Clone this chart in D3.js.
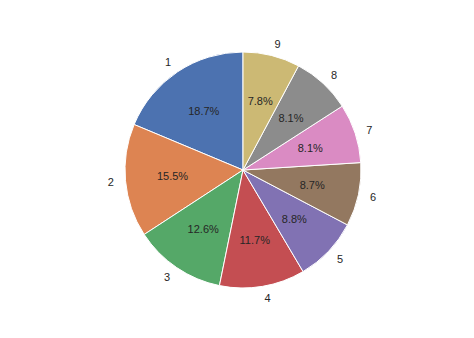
<!DOCTYPE html>
<html>
<head>
<meta charset="utf-8">
<script src="https://cdn.jsdelivr.net/npm/d3@7"></script>
<style>
  body { margin: 0; background: #fff; }
  text { font-family: "Liberation Sans", Arial, sans-serif; font-size: 11px; fill: #262626; }
</style>
</head>
<body>
<svg id="pieVis" width="474" height="338"></svg>
<script>
const labels = ['1', '2', '3', '4', '5', '6', '7', '8', '9'];
const shares = [18.7, 15.5, 12.6, 11.7, 8.8, 8.7, 8.1, 8.1, 7.8];
const colours = ['#4C72B0', '#DD8452', '#55A868', '#C44E52', '#8172B3', '#937860', '#DA8BC3', '#8C8C8C', '#CCB974'];

const cx = 243, cy = 170, radius = 118;
const svg = d3.select('svg#pieVis');
const g = svg.append('g').attr('transform', `translate(${cx},${cy})`);

// matplotlib style: start at 12 o'clock, counter-clockwise
const pie = d3.pie().sort(null).startAngle(0).endAngle(-2 * Math.PI);
const arcs = pie(shares);
const arc = d3.arc().innerRadius(0).outerRadius(radius);

const colourScale = d3.scaleOrdinal().domain(labels).range(colours);

g.selectAll('path')
  .data(arcs)
  .enter()
  .append('path')
  .attr('d', arc)
  .attr('fill', (d, i) => colourScale(labels[i]))
  .attr('stroke', '#fff')
  .attr('stroke-width', 1);

const mid = d => (d.startAngle + d.endAngle) / 2;

// outer labels
g.selectAll('text.label')
  .data(arcs)
  .enter()
  .append('text')
  .attr('class', 'label')
  .attr('x', d => Math.sin(mid(d)) * radius * 1.1)
  .attr('y', d => -Math.cos(mid(d)) * radius * 1.1)
  .attr('text-anchor', d => Math.sin(mid(d)) < 0 ? 'end' : 'start')
  .attr('dominant-baseline', 'central')
  .text((d, i) => labels[i]);

// percentages
g.selectAll('text.pct')
  .data(arcs)
  .enter()
  .append('text')
  .attr('class', 'pct')
  .attr('x', d => Math.sin(mid(d)) * radius * 0.6)
  .attr('y', d => -Math.cos(mid(d)) * radius * 0.6)
  .attr('text-anchor', 'middle')
  .attr('dominant-baseline', 'central')
  .text(d => d.data.toFixed(1) + '%');
</script>
</body>
</html>
